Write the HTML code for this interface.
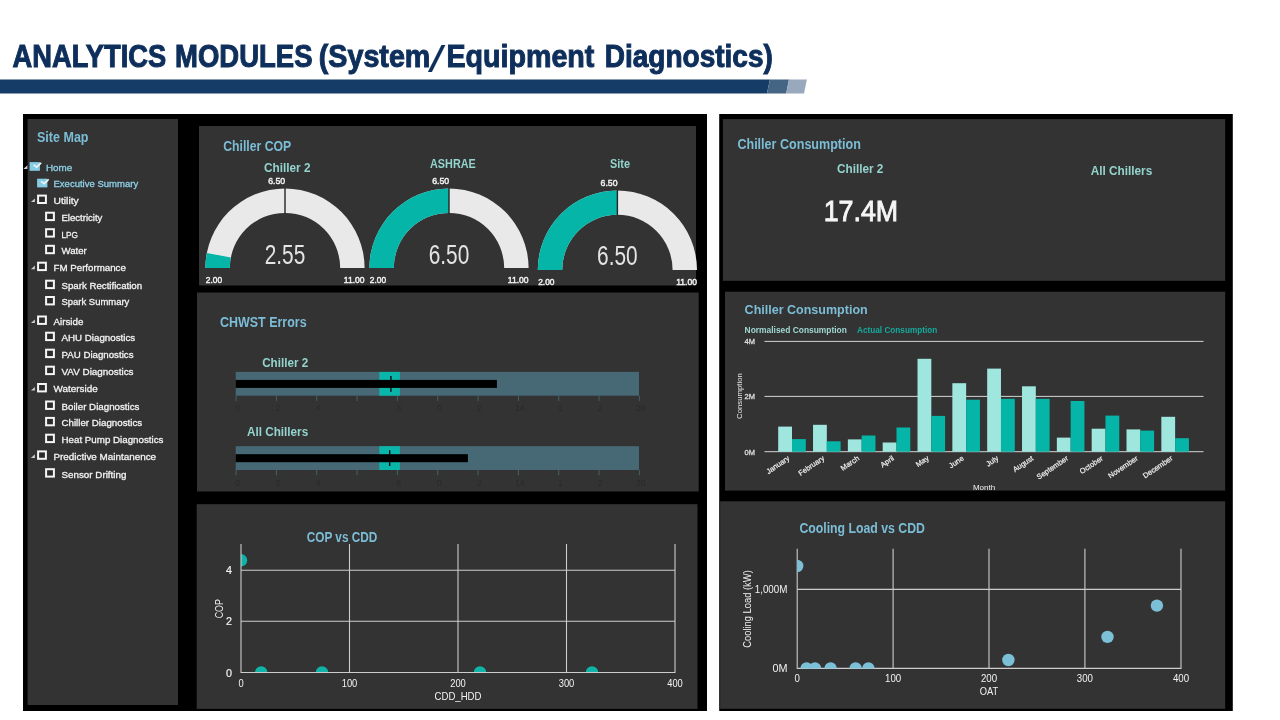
<!DOCTYPE html>
<html lang="en"><head><meta charset="utf-8"><title>Analytics Modules</title>
<style>
html,body{margin:0;padding:0;background:#fff;}
body{width:1280px;height:720px;overflow:hidden;font-family:"Liberation Sans",sans-serif;}
svg{display:block;font-family:"Liberation Sans",sans-serif;}
</style></head><body>
<svg width="1280" height="720" viewBox="0 0 1280 720">
<text y="65.4" font-size="31" font-weight="bold" fill="#0e2f5b" stroke="#0e2f5b" stroke-width="1"><tspan x="12.6" y="66.9" textLength="153.5" lengthAdjust="spacingAndGlyphs">ANALYTICS</tspan> <tspan x="175" y="66.9" textLength="137.5" lengthAdjust="spacingAndGlyphs">MODULES</tspan> <tspan x="318.8" y="66.9" textLength="111.5" lengthAdjust="spacingAndGlyphs">(System</tspan><tspan x="426.6" y="72" font-family="Liberation Mono, monospace" font-size="37.5" font-weight="bold" stroke-width="0.2" textLength="20.3" lengthAdjust="spacingAndGlyphs">/</tspan><tspan x="446.4" y="66.9" textLength="148" lengthAdjust="spacingAndGlyphs">Equipment</tspan> <tspan x="604.8" y="66.9" textLength="168" lengthAdjust="spacingAndGlyphs">Diagnostics)</tspan></text>
<polygon points="0,79.4 770,79.4 766.9,93.4 0,93.4" fill="#153c66"/>
<polygon points="770,79.4 789,79.4 786.2,93.4 766.9,93.4" fill="#456585"/>
<polygon points="789,79.4 806.9,79.4 804,93.4 786.2,93.4" fill="#98a9bd"/>
<rect x="23.00" y="114.00" width="684.00" height="597.00" fill="#000" />
<rect x="719.20" y="114.00" width="513.60" height="597.00" fill="#000" />
<rect x="27.60" y="119.00" width="150.40" height="586.00" fill="#333333" />
<text x="37.00" y="142.00" font-size="14.2" fill="#7cbdd6" font-weight="bold" textLength="51.50" lengthAdjust="spacingAndGlyphs" >Site Map</text>
<rect x="29.60" y="162.10" width="10.30" height="8.70" fill="#85cce4" />
<path d="M33.6 164.8 l3 2.3 l4.6 -4.3" stroke="#f4f4f4" stroke-width="1.6" fill="none"/>
<text x="46.00" y="170.70" font-size="9.6" fill="#8fd0e8" textLength="26.30" lengthAdjust="spacingAndGlyphs" stroke="#8fd0e8" stroke-width="0.3">Home</text>
<polygon points="27.4,168.9 23.4,168.9 27.4,165.3" fill="#cfcfcf"/>
<rect x="37.10" y="178.70" width="10.30" height="8.70" fill="#85cce4" />
<path d="M41.1 181.4 l3 2.3 l4.6 -4.3" stroke="#f4f4f4" stroke-width="1.6" fill="none"/>
<text x="53.50" y="187.30" font-size="9.6" fill="#8fd0e8" textLength="84.70" lengthAdjust="spacingAndGlyphs" stroke="#8fd0e8" stroke-width="0.3">Executive Summary</text>
<rect x="38.10" y="195.60" width="7.8" height="7.4" fill="#2b2b2b" stroke="#f6f6f6" stroke-width="2"/>
<text x="53.50" y="203.90" font-size="9.6" fill="#f2f2f2" textLength="25.20" lengthAdjust="spacingAndGlyphs" stroke="#f2f2f2" stroke-width="0.3">Utility</text>
<polygon points="34.9,202.1 30.9,202.1 34.9,198.5" fill="#cfcfcf"/>
<rect x="46.10" y="212.70" width="7.8" height="7.4" fill="#2b2b2b" stroke="#f6f6f6" stroke-width="2"/>
<text x="61.50" y="221.00" font-size="9.6" fill="#f2f2f2" textLength="40.80" lengthAdjust="spacingAndGlyphs" stroke="#f2f2f2" stroke-width="0.3">Electricity</text>
<rect x="46.10" y="229.20" width="7.8" height="7.4" fill="#2b2b2b" stroke="#f6f6f6" stroke-width="2"/>
<text x="61.50" y="237.50" font-size="9.6" fill="#f2f2f2" textLength="16.50" lengthAdjust="spacingAndGlyphs" stroke="#f2f2f2" stroke-width="0.3">LPG</text>
<rect x="46.10" y="245.80" width="7.8" height="7.4" fill="#2b2b2b" stroke="#f6f6f6" stroke-width="2"/>
<text x="61.50" y="254.10" font-size="9.6" fill="#f2f2f2" textLength="25.20" lengthAdjust="spacingAndGlyphs" stroke="#f2f2f2" stroke-width="0.3">Water</text>
<rect x="38.10" y="262.70" width="7.8" height="7.4" fill="#2b2b2b" stroke="#f6f6f6" stroke-width="2"/>
<text x="53.50" y="271.00" font-size="9.6" fill="#f2f2f2" textLength="72.40" lengthAdjust="spacingAndGlyphs" stroke="#f2f2f2" stroke-width="0.3">FM Performance</text>
<polygon points="34.9,269.2 30.9,269.2 34.9,265.6" fill="#cfcfcf"/>
<rect x="46.10" y="280.70" width="7.8" height="7.4" fill="#2b2b2b" stroke="#f6f6f6" stroke-width="2"/>
<text x="61.50" y="289.00" font-size="9.6" fill="#f2f2f2" textLength="80.60" lengthAdjust="spacingAndGlyphs" stroke="#f2f2f2" stroke-width="0.3">Spark Rectification</text>
<rect x="46.10" y="297.00" width="7.8" height="7.4" fill="#2b2b2b" stroke="#f6f6f6" stroke-width="2"/>
<text x="61.50" y="305.30" font-size="9.6" fill="#f2f2f2" textLength="67.80" lengthAdjust="spacingAndGlyphs" stroke="#f2f2f2" stroke-width="0.3">Spark Summary</text>
<rect x="38.10" y="316.50" width="7.8" height="7.4" fill="#2b2b2b" stroke="#f6f6f6" stroke-width="2"/>
<text x="53.50" y="324.80" font-size="9.6" fill="#f2f2f2" textLength="29.90" lengthAdjust="spacingAndGlyphs" stroke="#f2f2f2" stroke-width="0.3">Airside</text>
<polygon points="34.9,323.0 30.9,323.0 34.9,319.4" fill="#cfcfcf"/>
<rect x="46.10" y="332.70" width="7.8" height="7.4" fill="#2b2b2b" stroke="#f6f6f6" stroke-width="2"/>
<text x="61.50" y="341.00" font-size="9.6" fill="#f2f2f2" textLength="73.70" lengthAdjust="spacingAndGlyphs" stroke="#f2f2f2" stroke-width="0.3">AHU Diagnostics</text>
<rect x="46.10" y="349.70" width="7.8" height="7.4" fill="#2b2b2b" stroke="#f6f6f6" stroke-width="2"/>
<text x="61.50" y="358.00" font-size="9.6" fill="#f2f2f2" textLength="72.00" lengthAdjust="spacingAndGlyphs" stroke="#f2f2f2" stroke-width="0.3">PAU Diagnostics</text>
<rect x="46.10" y="366.70" width="7.8" height="7.4" fill="#2b2b2b" stroke="#f6f6f6" stroke-width="2"/>
<text x="61.50" y="375.00" font-size="9.6" fill="#f2f2f2" textLength="72.00" lengthAdjust="spacingAndGlyphs" stroke="#f2f2f2" stroke-width="0.3">VAV Diagnostics</text>
<rect x="38.10" y="384.00" width="7.8" height="7.4" fill="#2b2b2b" stroke="#f6f6f6" stroke-width="2"/>
<text x="53.50" y="392.30" font-size="9.6" fill="#f2f2f2" textLength="44.20" lengthAdjust="spacingAndGlyphs" stroke="#f2f2f2" stroke-width="0.3">Waterside</text>
<polygon points="34.9,390.5 30.9,390.5 34.9,386.9" fill="#cfcfcf"/>
<rect x="46.10" y="401.50" width="7.8" height="7.4" fill="#2b2b2b" stroke="#f6f6f6" stroke-width="2"/>
<text x="61.50" y="409.80" font-size="9.6" fill="#f2f2f2" textLength="78.00" lengthAdjust="spacingAndGlyphs" stroke="#f2f2f2" stroke-width="0.3">Boiler Diagnostics</text>
<rect x="46.10" y="417.90" width="7.8" height="7.4" fill="#2b2b2b" stroke="#f6f6f6" stroke-width="2"/>
<text x="61.50" y="426.20" font-size="9.6" fill="#f2f2f2" textLength="80.70" lengthAdjust="spacingAndGlyphs" stroke="#f2f2f2" stroke-width="0.3">Chiller Diagnostics</text>
<rect x="46.10" y="434.70" width="7.8" height="7.4" fill="#2b2b2b" stroke="#f6f6f6" stroke-width="2"/>
<text x="61.50" y="443.00" font-size="9.6" fill="#f2f2f2" textLength="102.00" lengthAdjust="spacingAndGlyphs" stroke="#f2f2f2" stroke-width="0.3">Heat Pump Diagnostics</text>
<rect x="38.10" y="451.40" width="7.8" height="7.4" fill="#2b2b2b" stroke="#f6f6f6" stroke-width="2"/>
<text x="53.50" y="459.70" font-size="9.6" fill="#f2f2f2" textLength="102.60" lengthAdjust="spacingAndGlyphs" stroke="#f2f2f2" stroke-width="0.3">Predictive Maintanence</text>
<polygon points="34.9,457.9 30.9,457.9 34.9,454.3" fill="#cfcfcf"/>
<rect x="46.10" y="469.20" width="7.8" height="7.4" fill="#2b2b2b" stroke="#f6f6f6" stroke-width="2"/>
<text x="61.50" y="477.50" font-size="9.6" fill="#f2f2f2" textLength="64.90" lengthAdjust="spacingAndGlyphs" stroke="#f2f2f2" stroke-width="0.3">Sensor Drifting</text>
<rect x="199.00" y="126.00" width="497.00" height="159.50" fill="#333333" />
<text x="223.20" y="150.50" font-size="13.8" fill="#7cbdd6" font-weight="bold" textLength="68.00" lengthAdjust="spacingAndGlyphs" >Chiller COP</text>
<path d="M205.40 268.10 A79.6 79.6 0 0 1 364.60 268.10 L340.20 268.10 A55.2 55.2 0 0 0 229.80 268.10 Z" fill="#e9e9e9"/>
<path d="M205.40 268.10 A79.6 79.6 0 0 1 206.86 252.91 L230.81 257.57 A55.2 55.2 0 0 0 229.80 268.10 Z" fill="#05b5a8"/>
<line x1="285.00" y1="188.00" x2="285.00" y2="213.40" stroke="#242424" stroke-width="1.4"/>
<text x="287.25" y="172.00" font-size="12.5" fill="#94d4ce" text-anchor="middle" font-weight="bold" textLength="46.50" lengthAdjust="spacingAndGlyphs" >Chiller 2</text>
<text x="285.20" y="183.90" font-size="9" fill="#f2f2f2" text-anchor="end" textLength="17.00" lengthAdjust="spacingAndGlyphs" stroke="#f2f2f2" stroke-width="0.45">6.50</text>
<text x="205.80" y="282.60" font-size="9" fill="#f2f2f2" textLength="16.30" lengthAdjust="spacingAndGlyphs" stroke="#f2f2f2" stroke-width="0.45">2.00</text>
<text x="364.60" y="282.60" font-size="9" fill="#f2f2f2" text-anchor="end" textLength="20.80" lengthAdjust="spacingAndGlyphs" stroke="#f2f2f2" stroke-width="0.45">11.00</text>
<text x="285.00" y="263.50" font-size="27.6" fill="#e4e4e4" text-anchor="middle" textLength="40.60" lengthAdjust="spacingAndGlyphs" >2.55</text>
<path d="M369.40 268.10 A79.6 79.6 0 0 1 528.60 268.10 L504.20 268.10 A55.2 55.2 0 0 0 393.80 268.10 Z" fill="#e9e9e9"/>
<path d="M369.40 268.10 A79.6 79.6 0 0 1 449.00 188.50 L449.00 212.90 A55.2 55.2 0 0 0 393.80 268.10 Z" fill="#05b5a8"/>
<line x1="449.00" y1="188.00" x2="449.00" y2="213.40" stroke="#242424" stroke-width="1.4"/>
<text x="452.90" y="168.00" font-size="12.5" fill="#94d4ce" text-anchor="middle" font-weight="bold" textLength="45.75" lengthAdjust="spacingAndGlyphs" >ASHRAE</text>
<text x="449.20" y="183.90" font-size="9" fill="#f2f2f2" text-anchor="end" textLength="17.00" lengthAdjust="spacingAndGlyphs" stroke="#f2f2f2" stroke-width="0.45">6.50</text>
<text x="369.80" y="282.60" font-size="9" fill="#f2f2f2" textLength="16.30" lengthAdjust="spacingAndGlyphs" stroke="#f2f2f2" stroke-width="0.45">2.00</text>
<text x="528.60" y="282.60" font-size="9" fill="#f2f2f2" text-anchor="end" textLength="20.80" lengthAdjust="spacingAndGlyphs" stroke="#f2f2f2" stroke-width="0.45">11.00</text>
<text x="449.00" y="263.50" font-size="27.6" fill="#e4e4e4" text-anchor="middle" textLength="40.60" lengthAdjust="spacingAndGlyphs" >6.50</text>
<path d="M537.80 270.00 A79.6 79.6 0 0 1 697.00 270.00 L672.60 270.00 A55.2 55.2 0 0 0 562.20 270.00 Z" fill="#e9e9e9"/>
<path d="M537.80 270.00 A79.6 79.6 0 0 1 617.40 190.40 L617.40 214.80 A55.2 55.2 0 0 0 562.20 270.00 Z" fill="#05b5a8"/>
<line x1="617.40" y1="189.90" x2="617.40" y2="215.30" stroke="#242424" stroke-width="1.4"/>
<text x="620.00" y="168.00" font-size="12.5" fill="#94d4ce" text-anchor="middle" font-weight="bold" textLength="20.00" lengthAdjust="spacingAndGlyphs" >Site</text>
<text x="617.60" y="185.80" font-size="9" fill="#f2f2f2" text-anchor="end" textLength="17.00" lengthAdjust="spacingAndGlyphs" stroke="#f2f2f2" stroke-width="0.45">6.50</text>
<text x="538.20" y="284.50" font-size="9" fill="#f2f2f2" textLength="16.30" lengthAdjust="spacingAndGlyphs" stroke="#f2f2f2" stroke-width="0.45">2.00</text>
<text x="697.00" y="284.50" font-size="9" fill="#f2f2f2" text-anchor="end" textLength="20.80" lengthAdjust="spacingAndGlyphs" stroke="#f2f2f2" stroke-width="0.45">11.00</text>
<text x="617.40" y="265.00" font-size="27.6" fill="#e4e4e4" text-anchor="middle" textLength="40.60" lengthAdjust="spacingAndGlyphs" >6.50</text>
<rect x="197.00" y="292.50" width="501.70" height="199.00" fill="#333333" />
<text x="220.00" y="326.80" font-size="13.8" fill="#7cbdd6" font-weight="bold" textLength="86.60" lengthAdjust="spacingAndGlyphs" >CHWST Errors</text>
<rect x="235.70" y="371.90" width="403.30" height="23.80" fill="#466975" />
<rect x="379.30" y="371.90" width="20.60" height="23.80" fill="#0ab5a9" />
<rect x="235.70" y="379.90" width="261.20" height="8.00" fill="#000" />
<line x1="390.90" y1="375.90" x2="390.90" y2="391.70" stroke="#000" stroke-width="1.3"/>
<text x="308.20" y="366.80" font-size="12.5" fill="#94d4ce" text-anchor="end" font-weight="bold" textLength="46.00" lengthAdjust="spacingAndGlyphs" >Chiller 2</text>
<line x1="236.10" y1="395.70" x2="236.10" y2="400.90" stroke="#42616b" stroke-width="1"/>
<text x="237.50" y="411.40" font-size="8.5" fill="#2a2a2a" text-anchor="middle" >0</text>
<line x1="276.43" y1="395.70" x2="276.43" y2="400.90" stroke="#42616b" stroke-width="1"/>
<text x="277.83" y="411.40" font-size="8.5" fill="#2a2a2a" text-anchor="middle" >2</text>
<line x1="316.76" y1="395.70" x2="316.76" y2="400.90" stroke="#42616b" stroke-width="1"/>
<text x="318.16" y="411.40" font-size="8.5" fill="#2a2a2a" text-anchor="middle" >4</text>
<line x1="357.09" y1="395.70" x2="357.09" y2="400.90" stroke="#42616b" stroke-width="1"/>
<line x1="397.42" y1="395.70" x2="397.42" y2="400.90" stroke="#42616b" stroke-width="1"/>
<text x="398.82" y="411.40" font-size="8.5" fill="#2a2a2a" text-anchor="middle" >8</text>
<line x1="437.75" y1="395.70" x2="437.75" y2="400.90" stroke="#42616b" stroke-width="1"/>
<text x="439.15" y="411.40" font-size="8.5" fill="#2a2a2a" text-anchor="middle" >0</text>
<line x1="478.08" y1="395.70" x2="478.08" y2="400.90" stroke="#42616b" stroke-width="1"/>
<text x="479.48" y="411.40" font-size="8.5" fill="#2a2a2a" text-anchor="middle" >2</text>
<line x1="518.41" y1="395.70" x2="518.41" y2="400.90" stroke="#42616b" stroke-width="1"/>
<text x="519.81" y="411.40" font-size="8.5" fill="#2a2a2a" text-anchor="middle" >14</text>
<line x1="558.74" y1="395.70" x2="558.74" y2="400.90" stroke="#42616b" stroke-width="1"/>
<text x="560.14" y="411.40" font-size="8.5" fill="#2a2a2a" text-anchor="middle" >1</text>
<line x1="599.07" y1="395.70" x2="599.07" y2="400.90" stroke="#42616b" stroke-width="1"/>
<text x="600.47" y="411.40" font-size="8.5" fill="#2a2a2a" text-anchor="middle" >2</text>
<line x1="639.40" y1="395.70" x2="639.40" y2="400.90" stroke="#42616b" stroke-width="1"/>
<text x="640.80" y="411.40" font-size="8.5" fill="#2a2a2a" text-anchor="middle" >20</text>
<rect x="235.70" y="446.20" width="403.30" height="23.80" fill="#466975" />
<rect x="379.30" y="446.20" width="20.60" height="23.80" fill="#0ab5a9" />
<rect x="235.70" y="454.20" width="232.20" height="8.00" fill="#000" />
<line x1="389.70" y1="450.20" x2="389.70" y2="466.00" stroke="#000" stroke-width="1.3"/>
<text x="308.20" y="435.70" font-size="12.5" fill="#94d4ce" text-anchor="end" font-weight="bold" textLength="61.20" lengthAdjust="spacingAndGlyphs" >All Chillers</text>
<line x1="236.10" y1="470.00" x2="236.10" y2="475.20" stroke="#42616b" stroke-width="1"/>
<text x="237.50" y="485.70" font-size="8.5" fill="#2a2a2a" text-anchor="middle" >0</text>
<line x1="276.43" y1="470.00" x2="276.43" y2="475.20" stroke="#42616b" stroke-width="1"/>
<text x="277.83" y="485.70" font-size="8.5" fill="#2a2a2a" text-anchor="middle" >2</text>
<line x1="316.76" y1="470.00" x2="316.76" y2="475.20" stroke="#42616b" stroke-width="1"/>
<text x="318.16" y="485.70" font-size="8.5" fill="#2a2a2a" text-anchor="middle" >4</text>
<line x1="357.09" y1="470.00" x2="357.09" y2="475.20" stroke="#42616b" stroke-width="1"/>
<line x1="397.42" y1="470.00" x2="397.42" y2="475.20" stroke="#42616b" stroke-width="1"/>
<text x="398.82" y="485.70" font-size="8.5" fill="#2a2a2a" text-anchor="middle" >8</text>
<line x1="437.75" y1="470.00" x2="437.75" y2="475.20" stroke="#42616b" stroke-width="1"/>
<text x="439.15" y="485.70" font-size="8.5" fill="#2a2a2a" text-anchor="middle" >0</text>
<line x1="478.08" y1="470.00" x2="478.08" y2="475.20" stroke="#42616b" stroke-width="1"/>
<text x="479.48" y="485.70" font-size="8.5" fill="#2a2a2a" text-anchor="middle" >2</text>
<line x1="518.41" y1="470.00" x2="518.41" y2="475.20" stroke="#42616b" stroke-width="1"/>
<text x="519.81" y="485.70" font-size="8.5" fill="#2a2a2a" text-anchor="middle" >14</text>
<line x1="558.74" y1="470.00" x2="558.74" y2="475.20" stroke="#42616b" stroke-width="1"/>
<text x="560.14" y="485.70" font-size="8.5" fill="#2a2a2a" text-anchor="middle" >1</text>
<line x1="599.07" y1="470.00" x2="599.07" y2="475.20" stroke="#42616b" stroke-width="1"/>
<text x="600.47" y="485.70" font-size="8.5" fill="#2a2a2a" text-anchor="middle" >2</text>
<line x1="639.40" y1="470.00" x2="639.40" y2="475.20" stroke="#42616b" stroke-width="1"/>
<text x="640.80" y="485.70" font-size="8.5" fill="#2a2a2a" text-anchor="middle" >20</text>
<rect x="196.70" y="504.20" width="500.80" height="204.70" fill="#333333" />
<text x="306.70" y="541.70" font-size="13.8" fill="#7cbdd6" font-weight="bold" textLength="70.60" lengthAdjust="spacingAndGlyphs" >COP vs CDD</text>
<clipPath id="c1"><rect x="241" y="540" width="440" height="132.5"/></clipPath>
<circle cx="241" cy="560.3" r="6.2" fill="#0fb3a7" clip-path="url(#c1)"/>
<circle cx="261.2" cy="672.5" r="6.2" fill="#0fb3a7" clip-path="url(#c1)"/>
<circle cx="322" cy="672.5" r="6.2" fill="#0fb3a7" clip-path="url(#c1)"/>
<circle cx="480" cy="672.5" r="6.2" fill="#0fb3a7" clip-path="url(#c1)"/>
<circle cx="592" cy="672.5" r="6.2" fill="#0fb3a7" clip-path="url(#c1)"/>
<line x1="241.00" y1="544.00" x2="241.00" y2="673.00" stroke="#cdcdcd" stroke-width="1.1"/>
<line x1="349.50" y1="544.00" x2="349.50" y2="673.00" stroke="#cdcdcd" stroke-width="1.1"/>
<line x1="458.00" y1="544.00" x2="458.00" y2="673.00" stroke="#cdcdcd" stroke-width="1.1"/>
<line x1="566.50" y1="544.00" x2="566.50" y2="673.00" stroke="#cdcdcd" stroke-width="1.1"/>
<line x1="675.00" y1="544.00" x2="675.00" y2="673.00" stroke="#cdcdcd" stroke-width="1.1"/>
<line x1="241.00" y1="570.20" x2="675.00" y2="570.20" stroke="#cdcdcd" stroke-width="1.1"/>
<line x1="241.00" y1="621.20" x2="675.00" y2="621.20" stroke="#cdcdcd" stroke-width="1.1"/>
<line x1="241.00" y1="672.50" x2="675.00" y2="672.50" stroke="#cdcdcd" stroke-width="1.1"/>
<text x="241.00" y="687.00" font-size="11" fill="#f2f2f2" text-anchor="middle" textLength="5.20" lengthAdjust="spacingAndGlyphs" >0</text>
<text x="349.50" y="687.00" font-size="11" fill="#f2f2f2" text-anchor="middle" textLength="15.60" lengthAdjust="spacingAndGlyphs" >100</text>
<text x="458.00" y="687.00" font-size="11" fill="#f2f2f2" text-anchor="middle" textLength="15.60" lengthAdjust="spacingAndGlyphs" >200</text>
<text x="566.50" y="687.00" font-size="11" fill="#f2f2f2" text-anchor="middle" textLength="15.60" lengthAdjust="spacingAndGlyphs" >300</text>
<text x="675.00" y="687.00" font-size="11" fill="#f2f2f2" text-anchor="middle" textLength="15.60" lengthAdjust="spacingAndGlyphs" >400</text>
<text x="232.00" y="574.20" font-size="11" fill="#f2f2f2" text-anchor="end" textLength="6.00" lengthAdjust="spacingAndGlyphs" stroke="#f2f2f2" stroke-width="0.2">4</text>
<text x="232.00" y="625.20" font-size="11" fill="#f2f2f2" text-anchor="end" textLength="6.00" lengthAdjust="spacingAndGlyphs" stroke="#f2f2f2" stroke-width="0.2">2</text>
<text x="232.00" y="676.50" font-size="11" fill="#f2f2f2" text-anchor="end" textLength="6.00" lengthAdjust="spacingAndGlyphs" stroke="#f2f2f2" stroke-width="0.2">0</text>
<text x="458.00" y="700.00" font-size="10.5" fill="#f2f2f2" text-anchor="middle" textLength="47.00" lengthAdjust="spacingAndGlyphs" >CDD_HDD</text>
<text x="223.00" y="608.70" font-size="10.5" fill="#f2f2f2" text-anchor="middle" textLength="19.20" lengthAdjust="spacingAndGlyphs" transform="rotate(-90 223 608.7)">COP</text>
<rect x="722.90" y="119.10" width="502.30" height="161.70" fill="#333333" />
<text x="737.40" y="149.00" font-size="13.8" fill="#7cbdd6" font-weight="bold" textLength="123.50" lengthAdjust="spacingAndGlyphs" >Chiller Consumption</text>
<text x="860.20" y="172.80" font-size="12.5" fill="#94d4ce" text-anchor="middle" font-weight="bold" textLength="46.40" lengthAdjust="spacingAndGlyphs" >Chiller 2</text>
<text x="860.90" y="220.90" font-size="29.8" fill="#f6f6f6" text-anchor="middle" textLength="74.50" lengthAdjust="spacingAndGlyphs" stroke="#f6f6f6" stroke-width="0.9">17.4M</text>
<text x="1121.50" y="174.70" font-size="12.5" fill="#94d4ce" text-anchor="middle" font-weight="bold" textLength="61.50" lengthAdjust="spacingAndGlyphs" >All Chillers</text>
<rect x="725.00" y="291.70" width="500.20" height="198.90" fill="#333333" />
<text x="744.60" y="314.30" font-size="13.2" fill="#7cbdd6" font-weight="bold" textLength="123.10" lengthAdjust="spacingAndGlyphs" >Chiller Consumption</text>
<text x="744.60" y="332.60" font-size="9" fill="#a0d8d2" font-weight="bold" textLength="102.30" lengthAdjust="spacingAndGlyphs" >Normalised Consumption</text>
<text x="857.00" y="332.60" font-size="9" fill="#16aa9d" font-weight="bold" textLength="80.30" lengthAdjust="spacingAndGlyphs" >Actual Consumption</text>
<line x1="764.50" y1="341.40" x2="1203.50" y2="341.40" stroke="#d4d4d4" stroke-width="1.0"/>
<line x1="764.50" y1="396.40" x2="1203.50" y2="396.40" stroke="#d4d4d4" stroke-width="1.0"/>
<line x1="764.50" y1="451.70" x2="1203.50" y2="451.70" stroke="#d4d4d4" stroke-width="1.0"/>
<text x="744.60" y="344.20" font-size="7.5" fill="#dedede" stroke="#dedede" stroke-width="0.3">4M</text>
<text x="744.60" y="399.20" font-size="7.5" fill="#dedede" stroke="#dedede" stroke-width="0.3">2M</text>
<text x="744.60" y="454.50" font-size="7.5" fill="#dedede" stroke="#dedede" stroke-width="0.3">0M</text>
<text x="742.00" y="396.00" font-size="7.5" fill="#e6e6e6" text-anchor="middle" textLength="45.80" lengthAdjust="spacingAndGlyphs" transform="rotate(-90 742 396)">Consumption</text>
<rect x="778.20" y="426.60" width="13.80" height="25.10" fill="#9fe6df" />
<rect x="792.00" y="439.10" width="13.80" height="12.60" fill="#05b5a8" />
<text x="790.20" y="459.50" font-size="7.4" fill="#f0f0f0" text-anchor="end" stroke="#f0f0f0" stroke-width="0.2" transform="rotate(-34 790.2 459.5)">January</text>
<rect x="813.03" y="424.80" width="13.80" height="26.90" fill="#9fe6df" />
<rect x="826.83" y="441.30" width="13.80" height="10.40" fill="#05b5a8" />
<text x="825.03" y="459.50" font-size="7.4" fill="#f0f0f0" text-anchor="end" stroke="#f0f0f0" stroke-width="0.2" transform="rotate(-34 825.0 459.5)">February</text>
<rect x="847.86" y="439.40" width="13.80" height="12.30" fill="#9fe6df" />
<rect x="861.66" y="435.50" width="13.80" height="16.20" fill="#05b5a8" />
<text x="859.86" y="459.50" font-size="7.4" fill="#f0f0f0" text-anchor="end" stroke="#f0f0f0" stroke-width="0.2" transform="rotate(-34 859.9 459.5)">March</text>
<rect x="882.69" y="442.50" width="13.80" height="9.20" fill="#9fe6df" />
<rect x="896.49" y="427.50" width="13.80" height="24.20" fill="#05b5a8" />
<text x="894.69" y="459.50" font-size="7.4" fill="#f0f0f0" text-anchor="end" stroke="#f0f0f0" stroke-width="0.2" transform="rotate(-34 894.7 459.5)">April</text>
<rect x="917.52" y="358.80" width="13.80" height="92.90" fill="#9fe6df" />
<rect x="931.32" y="415.90" width="13.80" height="35.80" fill="#05b5a8" />
<text x="929.52" y="459.50" font-size="7.4" fill="#f0f0f0" text-anchor="end" stroke="#f0f0f0" stroke-width="0.2" transform="rotate(-34 929.5 459.5)">May</text>
<rect x="952.35" y="383.20" width="13.80" height="68.50" fill="#9fe6df" />
<rect x="966.15" y="399.70" width="13.80" height="52.00" fill="#05b5a8" />
<text x="964.35" y="459.50" font-size="7.4" fill="#f0f0f0" text-anchor="end" stroke="#f0f0f0" stroke-width="0.2" transform="rotate(-34 964.4 459.5)">June</text>
<rect x="987.18" y="368.60" width="13.80" height="83.10" fill="#9fe6df" />
<rect x="1000.98" y="398.80" width="13.80" height="52.90" fill="#05b5a8" />
<text x="999.18" y="459.50" font-size="7.4" fill="#f0f0f0" text-anchor="end" stroke="#f0f0f0" stroke-width="0.2" transform="rotate(-34 999.2 459.5)">July</text>
<rect x="1022.01" y="386.30" width="13.80" height="65.40" fill="#9fe6df" />
<rect x="1035.81" y="398.80" width="13.80" height="52.90" fill="#05b5a8" />
<text x="1034.01" y="459.50" font-size="7.4" fill="#f0f0f0" text-anchor="end" stroke="#f0f0f0" stroke-width="0.2" transform="rotate(-34 1034.0 459.5)">August</text>
<rect x="1056.84" y="437.60" width="13.80" height="14.10" fill="#9fe6df" />
<rect x="1070.64" y="401.00" width="13.80" height="50.70" fill="#05b5a8" />
<text x="1068.84" y="459.50" font-size="7.4" fill="#f0f0f0" text-anchor="end" stroke="#f0f0f0" stroke-width="0.2" transform="rotate(-34 1068.8 459.5)">September</text>
<rect x="1091.67" y="428.70" width="13.80" height="23.00" fill="#9fe6df" />
<rect x="1105.47" y="415.60" width="13.80" height="36.10" fill="#05b5a8" />
<text x="1103.67" y="459.50" font-size="7.4" fill="#f0f0f0" text-anchor="end" stroke="#f0f0f0" stroke-width="0.2" transform="rotate(-34 1103.7 459.5)">October</text>
<rect x="1126.50" y="429.40" width="13.80" height="22.30" fill="#9fe6df" />
<rect x="1140.30" y="430.60" width="13.80" height="21.10" fill="#05b5a8" />
<text x="1138.50" y="459.50" font-size="7.4" fill="#f0f0f0" text-anchor="end" stroke="#f0f0f0" stroke-width="0.2" transform="rotate(-34 1138.5 459.5)">November</text>
<rect x="1161.33" y="416.80" width="13.80" height="34.90" fill="#9fe6df" />
<rect x="1175.13" y="438.20" width="13.80" height="13.50" fill="#05b5a8" />
<text x="1173.33" y="459.50" font-size="7.4" fill="#f0f0f0" text-anchor="end" stroke="#f0f0f0" stroke-width="0.2" transform="rotate(-34 1173.3 459.5)">December</text>
<text x="984.00" y="489.50" font-size="8" fill="#f2f2f2" text-anchor="middle" >Month</text>
<rect x="720.10" y="501.30" width="505.10" height="207.50" fill="#333333" />
<text x="799.40" y="532.80" font-size="13.8" fill="#7cbdd6" font-weight="bold" textLength="125.60" lengthAdjust="spacingAndGlyphs" >Cooling Load vs CDD</text>
<clipPath id="c2"><rect x="797.2" y="540" width="400" height="128.4"/></clipPath>
<line x1="797.20" y1="548.80" x2="797.20" y2="669.00" stroke="#cdcdcd" stroke-width="1.1"/>
<line x1="893.10" y1="548.80" x2="893.10" y2="669.00" stroke="#cdcdcd" stroke-width="1.1"/>
<line x1="989.00" y1="548.80" x2="989.00" y2="669.00" stroke="#cdcdcd" stroke-width="1.1"/>
<line x1="1084.90" y1="548.80" x2="1084.90" y2="669.00" stroke="#cdcdcd" stroke-width="1.1"/>
<line x1="1181.00" y1="548.80" x2="1181.00" y2="669.00" stroke="#cdcdcd" stroke-width="1.1"/>
<line x1="797.20" y1="589.40" x2="1181.00" y2="589.40" stroke="#cdcdcd" stroke-width="1.1"/>
<line x1="797.20" y1="668.40" x2="1181.00" y2="668.40" stroke="#cdcdcd" stroke-width="1.1"/>
<circle cx="797.2" cy="566" r="6.2" fill="#7cc0d8" clip-path="url(#c2)"/>
<circle cx="806.6" cy="668.4" r="6.2" fill="#7cc0d8" clip-path="url(#c2)"/>
<circle cx="815" cy="668.4" r="6.2" fill="#7cc0d8" clip-path="url(#c2)"/>
<circle cx="830.6" cy="668.4" r="6.2" fill="#7cc0d8" clip-path="url(#c2)"/>
<circle cx="855.6" cy="668.4" r="6.2" fill="#7cc0d8" clip-path="url(#c2)"/>
<circle cx="868.4" cy="668.4" r="6.2" fill="#7cc0d8" clip-path="url(#c2)"/>
<circle cx="1008.4" cy="660" r="6.2" fill="#7cc0d8" clip-path="url(#c2)"/>
<circle cx="1107.5" cy="636.9" r="6.2" fill="#7cc0d8" clip-path="url(#c2)"/>
<circle cx="1156.9" cy="605.6" r="6.2" fill="#7cc0d8" clip-path="url(#c2)"/>
<text x="797.20" y="682.00" font-size="11" fill="#f2f2f2" text-anchor="middle" textLength="5.40" lengthAdjust="spacingAndGlyphs" >0</text>
<text x="893.10" y="682.00" font-size="11" fill="#f2f2f2" text-anchor="middle" textLength="16.20" lengthAdjust="spacingAndGlyphs" >100</text>
<text x="989.00" y="682.00" font-size="11" fill="#f2f2f2" text-anchor="middle" textLength="16.20" lengthAdjust="spacingAndGlyphs" >200</text>
<text x="1084.90" y="682.00" font-size="11" fill="#f2f2f2" text-anchor="middle" textLength="16.20" lengthAdjust="spacingAndGlyphs" >300</text>
<text x="1181.00" y="682.00" font-size="11" fill="#f2f2f2" text-anchor="middle" textLength="16.20" lengthAdjust="spacingAndGlyphs" >400</text>
<text x="787.50" y="593.40" font-size="11" fill="#f2f2f2" text-anchor="end" textLength="32.80" lengthAdjust="spacingAndGlyphs" >1,000M</text>
<text x="787.50" y="672.40" font-size="11" fill="#f2f2f2" text-anchor="end" textLength="15.00" lengthAdjust="spacingAndGlyphs" >0M</text>
<text x="989.00" y="695.30" font-size="10.5" fill="#f2f2f2" text-anchor="middle" textLength="18.50" lengthAdjust="spacingAndGlyphs" >OAT</text>
<text x="751.00" y="609.00" font-size="10" fill="#f2f2f2" text-anchor="middle" textLength="77.50" lengthAdjust="spacingAndGlyphs" transform="rotate(-90 751 609)">Cooling Load (kW)</text>
</svg>
</body></html>
